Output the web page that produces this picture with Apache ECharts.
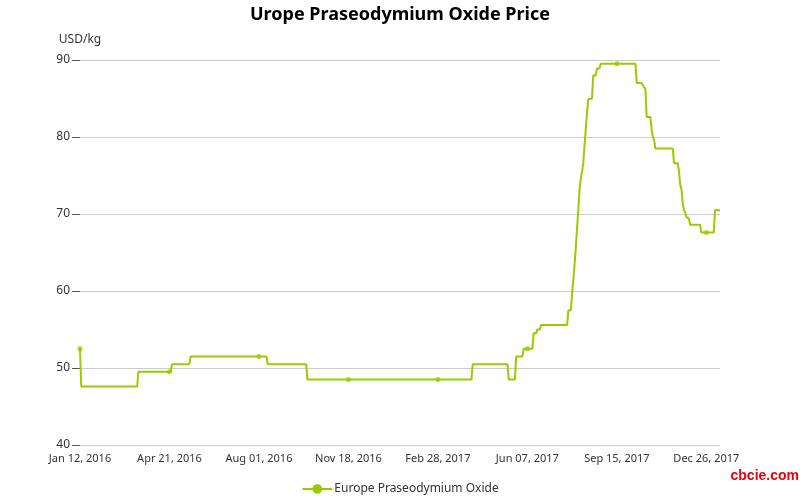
<!DOCTYPE html>
<html>
<head>
<meta charset="utf-8">
<script src="https://cdn.jsdelivr.net/npm/echarts@6/dist/echarts.min.js"></script>
<style>
html,body{margin:0;padding:0;background:#fff;}
#chart{width:800px;height:500px;}
</style>
</head>
<body>
<div id="chart"></div>
<script>
// Trading-day index (position along the x axis) and price in USD/kg at each observed change
const dayIndex = [0, 1, 46, 47, 73, 74, 88, 89, 150, 151, 182, 183, 315, 316, 344, 345, 350, 351, 356, 357,
  364, 365, 367, 368, 370, 371, 392, 393, 395, 396, 397, 398, 399, 400, 401, 402, 403, 404, 405, 406,
  407, 408, 409, 412, 413, 415, 416, 418, 419, 447, 448, 452, 453, 454, 455, 456, 459, 460, 461, 462,
  463, 477, 478, 481, 482, 483, 484, 485, 486, 487, 488, 490, 491, 499, 500, 510, 511, 515];
const price = [52.5, 47.6, 47.6, 49.5, 49.5, 50.5, 50.5, 51.5, 51.5, 50.5, 50.5, 48.5, 48.5, 50.5, 50.5, 48.5, 48.5, 51.5, 51.5, 52.5,
  52.5, 54.5, 54.5, 55.0, 55.0, 55.6, 55.6, 57.5, 57.5, 59.8, 61.5, 63.5, 65.7, 68.2, 70.6, 73.2, 74.6, 75.5, 76.6, 79.0,
  81.0, 83.2, 84.9, 85.0, 88.0, 88.0, 88.9, 88.9, 89.5, 89.5, 87.0, 87.0, 86.7, 86.5, 86.2, 82.6, 82.6, 81.0, 80.0, 79.6,
  78.5, 78.5, 76.6, 76.6, 75.5, 73.8, 73.2, 71.5, 70.5, 70.2, 69.6, 69.4, 68.6, 68.6, 67.6, 67.6, 70.5, 70.5];
// Marker dots shown at the labelled days
const markerDays = [0, 72, 144, 216, 288, 360, 432, 504];
const markerPrice = [52.5, 49.5, 51.5, 48.5, 48.5, 52.5, 89.5, 67.6];
const tickLabels = ["Jan 12, 2016", "Apr 21, 2016", "Aug 01, 2016", "Nov 18, 2016",
  "Feb 28, 2017", "Jun 07, 2017", "Sep 15, 2017", "Dec 26, 2017"];
const labelStep = 72;
const lastDay = 515;
const seriesName = "Europe Praseodymium Oxide";

const lineColor = '#99cc00';
const font = 'Noto Sans';

const chart = echarts.init(document.getElementById('chart'), null, {renderer: 'canvas'});
chart.setOption({
  animation: false,
  backgroundColor: '#fff',
  title: {
    text: 'Urope Praseodymium Oxide Price',
    left: 'center', top: 1,
    textStyle: {fontFamily: font, fontSize: 18, fontWeight: 'bold', color: '#000'}
  },
  legend: {
    bottom: 0, left: 'center',
    itemWidth: 30, itemHeight: 12, itemGap: 10,
    textStyle: {fontFamily: font, fontSize: 12, color: '#333', padding: [0, 0, 0, -3]},
    data: [seriesName]
  },
  grid: {left: 80, right: 80, top: 60, bottom: 55},
  xAxis: {
    type: 'value', min: 0, max: lastDay, interval: labelStep,
    axisLine: {show: true, lineStyle: {color: '#ccc'}},
    axisTick: {show: false},
    splitLine: {show: false},
    axisLabel: {
      margin: 8, color: '#333', fontFamily: font, fontSize: 11,
      formatter: v => (v % labelStep === 0 && tickLabels[v / labelStep]) ? tickLabels[v / labelStep] : ''
    }
  },
  yAxis: {
    type: 'value', min: 40, max: 90, interval: 10,
    name: 'USD/kg', nameLocation: 'end', nameGap: 14,
    nameTextStyle: {fontFamily: font, fontSize: 12, color: '#333'},
    axisLine: {show: false},
    axisTick: {show: true, length: 8, lineStyle: {color: '#555'}},
    splitLine: {lineStyle: {color: '#ccc'}},
    axisLabel: {margin: 10, color: '#333', fontFamily: font, fontSize: 12}
  },
  graphic: [{
    type: 'text', right: 1, top: 469,
    style: {text: 'cbcie.com', fill: '#e8000b', font: 'bold 14px "Liberation Sans"'}
  }],
  series: [{
    name: seriesName,
    type: 'line',
    showSymbol: false,
    symbol: 'circle', symbolSize: 11,
    lineStyle: {color: lineColor, width: 2},
    itemStyle: {color: lineColor},
    data: dayIndex.map((d, i) => [d, price[i]])
  }, {
    name: 'markers',
    type: 'scatter',
    symbol: 'circle', symbolSize: 5,
    itemStyle: {color: lineColor},
    data: markerDays.map((d, i) => [d, markerPrice[i]])
  }]
});
</script>
</body>
</html>
